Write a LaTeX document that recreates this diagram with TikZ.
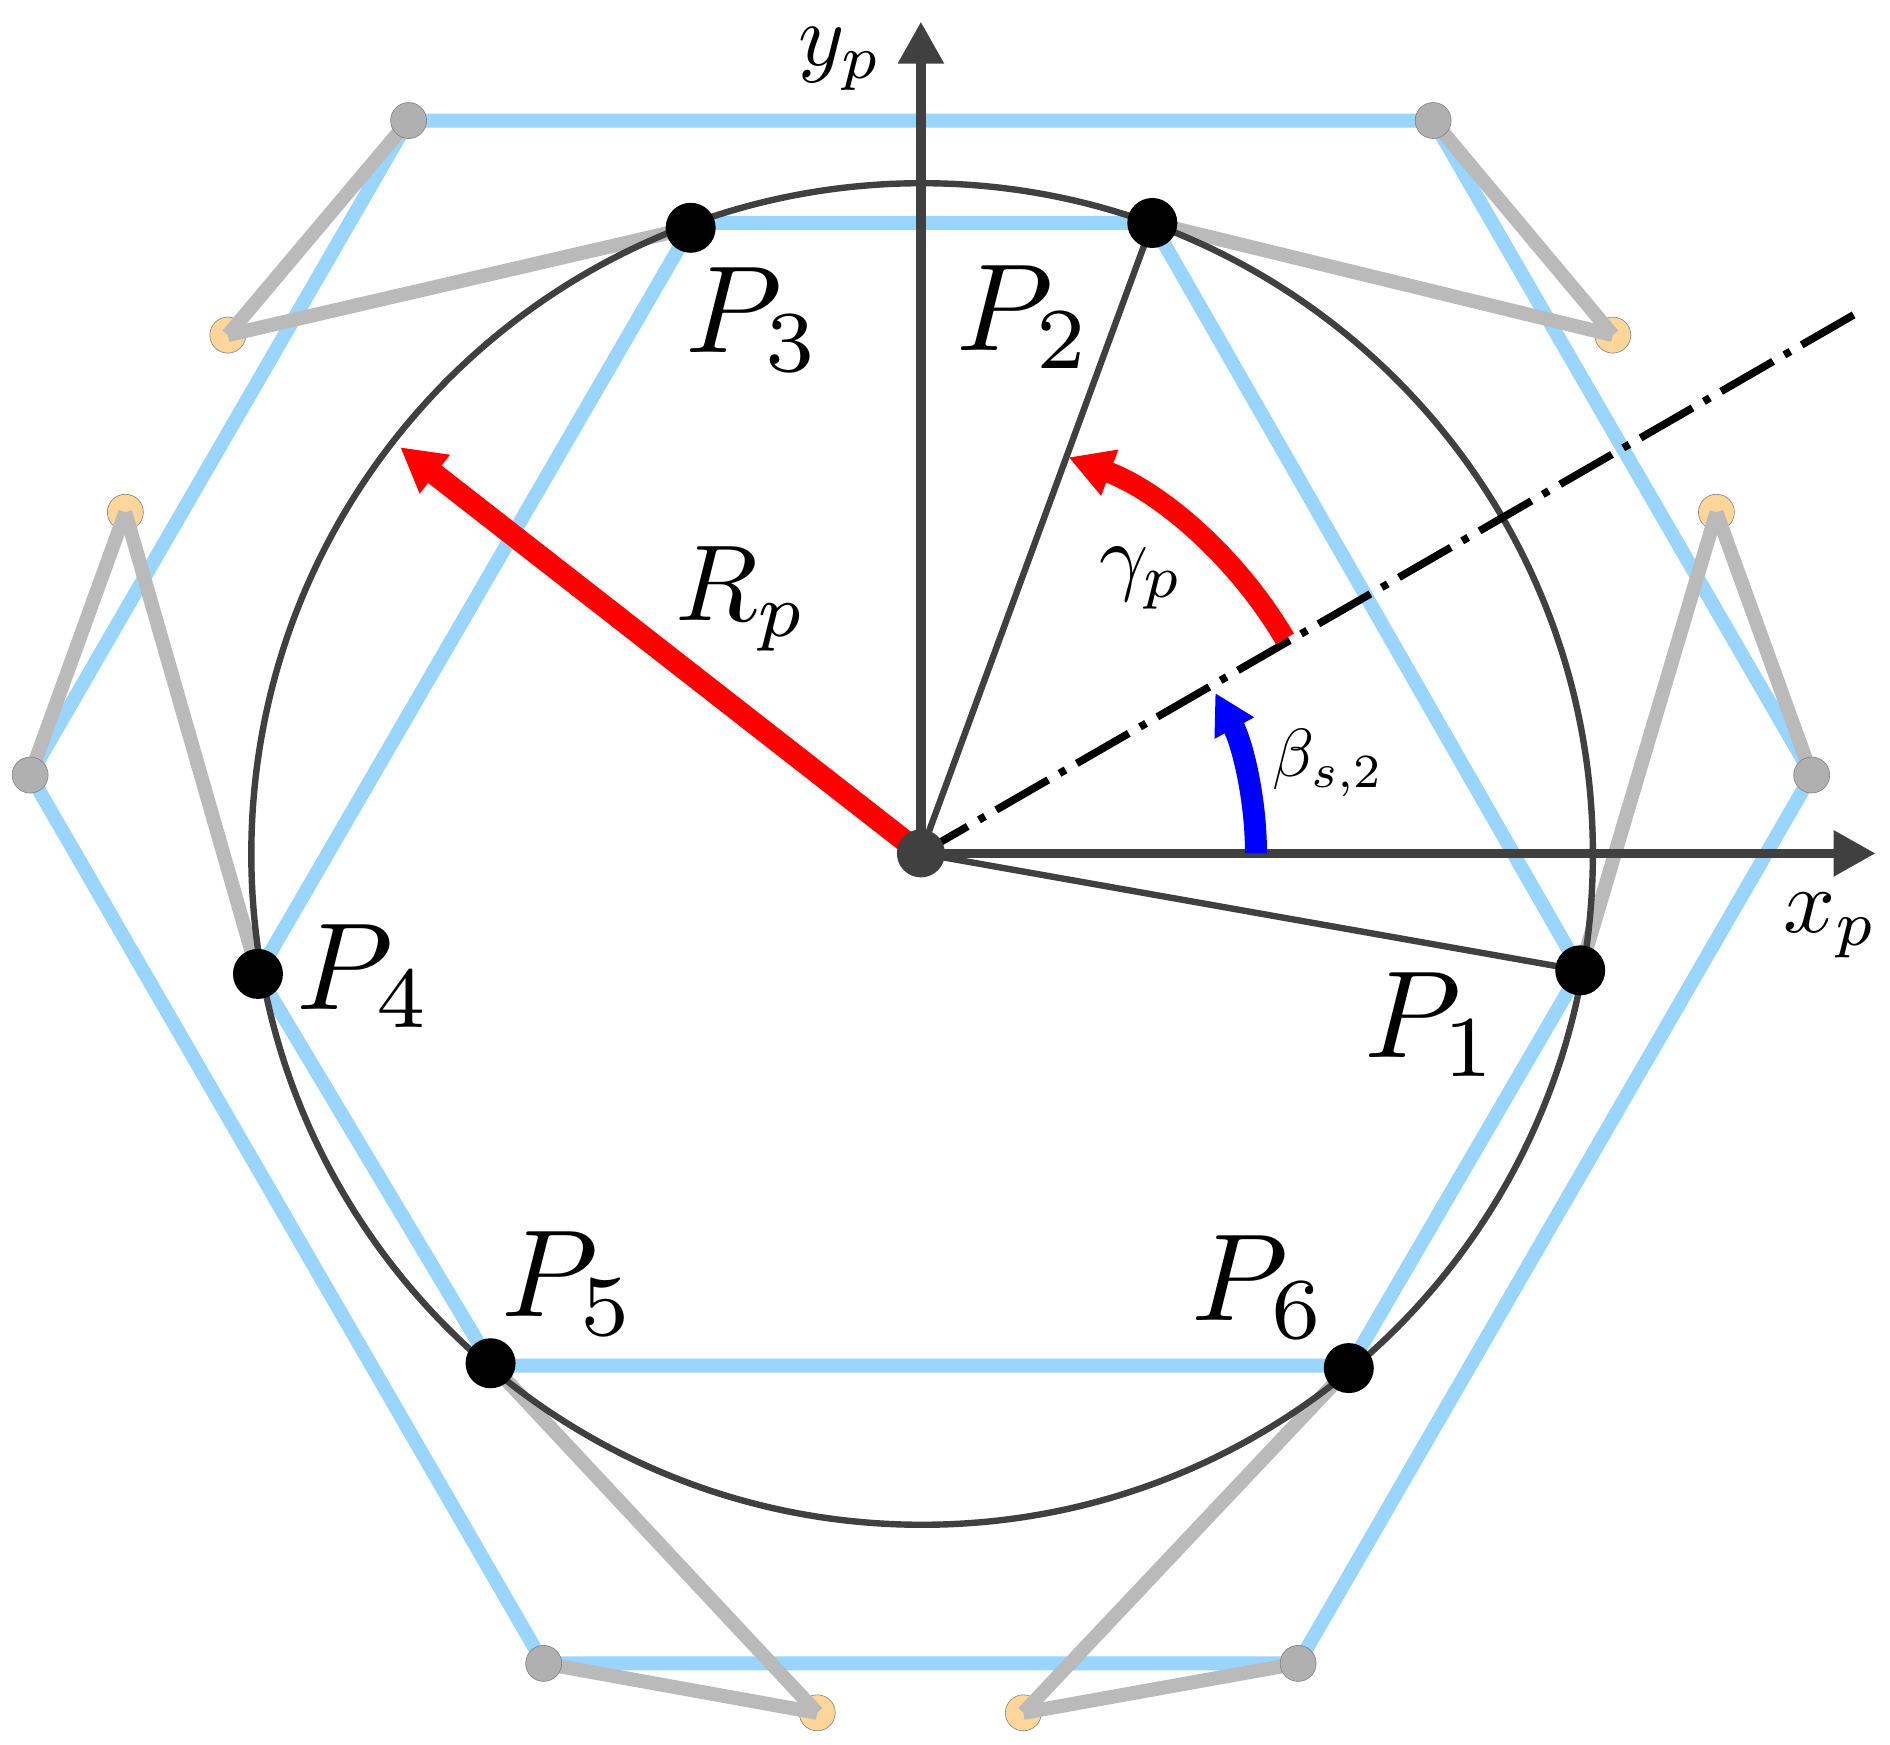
\documentclass[tikz,border=0pt]{standalone}
\usetikzlibrary{arrows.meta}
\definecolor{hexblue}{HTML}{99D5FF}
\definecolor{linkgray}{HTML}{BABABA}
\definecolor{jointgray}{HTML}{B0B0B0}
\definecolor{jointorange}{HTML}{FFD699}
\definecolor{axisgray}{HTML}{404040}
\tikzset{
  x=0.60268pt,y=0.60268pt,
  hexline/.style={draw=hexblue,line width=7pt},
  linkline/.style={draw=linkgray,line width=7pt},
  thinline/.style={draw=axisgray,line width=3.2pt},
  axisline/.style={draw=axisgray,line width=4.6pt,-{Triangle[length=21pt,width=22pt]}},
  platedot/.style={circle,fill=black,inner sep=0pt,minimum size=25pt},
  basedot/.style={circle,fill=jointgray,draw=gray,line width=0.3pt,inner sep=0pt,minimum size=18pt},
  kneedot/.style={circle,fill=jointorange,draw=gray,line width=0.3pt,inner sep=0pt,minimum size=18pt},
  bigtext/.style={inner sep=0pt,scale=6.2},
}
\begin{document}
\begin{tikzpicture}
\useasboundingbox (0,0) rectangle (1568,-1446.9);
% centre and points
\coordinate (o) at (764,-708);
\coordinate (a1) at (1311,-805);
\coordinate (a2) at (956,-185);
\coordinate (a3) at (573,-189);
\coordinate (a4) at (214,-808);
\coordinate (a5) at (407,-1131);
\coordinate (a6) at (1119,-1135);
\coordinate (b1) at (1503,-643);
\coordinate (b2) at (1189,-100);
\coordinate (b3) at (339,-100);
\coordinate (b4) at (25,-643);
\coordinate (b5) at (451,-1380);
\coordinate (b6) at (1077,-1380);
\coordinate (k1) at (1424,-425);
\coordinate (k2) at (1338,-278);
\coordinate (k3) at (189,-278);
\coordinate (k4) at (104,-425);
\coordinate (k5) at (678,-1421);
\coordinate (k6) at (849,-1421);
\coordinate (xtip) at (1556,-708);
\coordinate (ytip) at (764,-18);
\coordinate (beamend) at (1540,-260);
\coordinate (rtip) at (332,-371);
% hexagons
\draw[hexline] (b1) -- (b2) -- (b3) -- (b4) -- (b5) -- (b6) -- cycle;
\draw[hexline] (a1) -- (a2) -- (a3 |- a2) -- (a3) -- (a4) -- (a5) -- (a5 |- 0,-1133) -- (a6 |- 0,-1133) -- (a6) -- cycle;
% knee joints under links
\node[kneedot] (n1) at (k1) {};
\node[kneedot] (n2) at (k2) {};
\node[kneedot] (n3) at (k3) {};
\node[kneedot] (n4) at (k4) {};
\node[kneedot] (n5) at (k5) {};
\node[kneedot] (n6) at (k6) {};
% links
\draw[linkline] (b1) -- (n1.center); \draw[linkline] (n1.center) -- (a1);
\draw[linkline] (b2) -- (n2.center); \draw[linkline] (n2.center) -- (a2);
\draw[linkline] (b3) -- (n3.center); \draw[linkline] (n3.center) -- (a3);
\draw[linkline] (b4) -- (n4.center); \draw[linkline] (n4.center) -- (a4);
\draw[linkline] (b5) -- (n5.center); \draw[linkline] (n5.center) -- (a5);
\draw[linkline] (b6) -- (n6.center); \draw[linkline] (n6.center) -- (a6);
% circle
\draw[thinline] (765,-708.5) circle[radius=556.5];
% dash-dot beam
\draw[black,line width=3.8pt,dash pattern=on 30pt off 6.5pt on 3.5pt off 6.5pt,dash phase=3pt] (o) -- (beamend);
% radial lines
\draw[thinline] (o) -- (a2);
\draw[thinline] (o) -- (a1);
% axes
\draw[axisline] (o) -- (xtip);
\draw[axisline] (o) -- (ytip);
% red and blue arrows
\draw[red,line width=11pt,-{Triangle[length=22pt,width=23pt]}] (o) -- (rtip);
\draw[red,line width=10.5pt,-{Triangle[length=22pt,width=23pt]}] (1066,-530) arc[start angle=30.5,end angle=69.5,radius=351];
\draw[blue,line width=11pt,-{Triangle[length=20pt,width=21pt]}] (1042,-708) arc[start angle=0,end angle=28.5,radius=279];
% joints and points
\node[basedot] (m1) at (b1) {};
\node[basedot] (m2) at (b2) {};
\node[basedot] (m3) at (b3) {};
\node[basedot] (m4) at (b4) {};
\node[basedot] (m5) at (b5) {};
\node[basedot] (m6) at (b6) {};
\node[platedot] (p1) at (a1) {};
\node[platedot] (p2) at (a2) {};
\node[platedot] (p3) at (a3) {};
\node[platedot] (p4) at (a4) {};
\node[platedot] (p5) at (a5) {};
\node[platedot] (p6) at (a6) {};
\node[circle,fill=axisgray,inner sep=0pt,minimum size=24pt] (centre) at (o) {};
% labels
\node[bigtext] (l1) at (1188,-850) {$P_1$};
\node[bigtext] (l2) at (850,-263) {$P_2$};
\node[bigtext] (l3) at (625,-265) {$P_3$};
\node[bigtext] (l4) at (302,-810) {$P_4$};
\node[bigtext] (l5) at (472,-1065) {$P_5$};
\node[bigtext] (l6) at (1045,-1068) {$P_6$};
\node[inner sep=0pt,scale=5.4] (lr) at (615,-497) {$R_p$};
\node[inner sep=0pt,scale=4.3] (lg) at (947,-480) {$\gamma_p$};
\node[inner sep=0pt,scale=3.4] (lb) at (1102,-633) {$\beta_{s,2}$};
\node[inner sep=0pt,scale=4.4] (ly) at (697,-49) {$y_p$};
\node[inner sep=0pt,scale=4.56] (lx) at (1519,-768) {$x_p$};
\end{tikzpicture}
\end{document}
